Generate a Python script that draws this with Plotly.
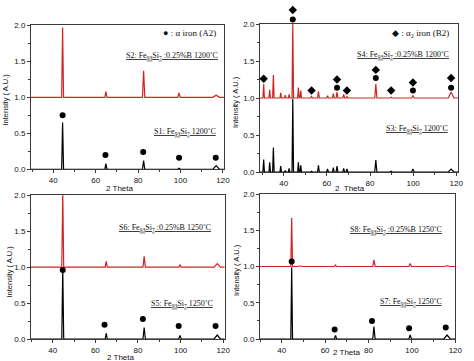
import plotly.graph_objects as go

W, H = 474, 361

# ---------------- data ----------------
# Panel a (top-left): 1200 C, alpha iron (A2)
s2_pos = [44.4, 64.8, 82.6, 99.3, 116.8]
s2_h = [0.97, 0.08, 0.37, 0.06, 0.03]
s2_w = [0.45, 0.5, 0.55, 0.6, 1.6]
s1_pos = [44.4, 64.8, 82.6, 99.3, 116.8]
s1_h = [0.65, 0.08, 0.12, 0.015, 0.05]
s1_w = [0.45, 0.5, 0.55, 0.6, 1.6]
a_circ_x = [44.4, 64.6, 82.4, 99.3, 116.6]
a_circ_y = [0.75, 0.20, 0.24, 0.16, 0.16]

# Panel b (top-right): 1200 C, alpha2 iron (B2)
b_pos = [30.7, 33.5, 35.2, 38.6, 40.7, 42.5, 44.2, 46.8, 47.9, 52.9, 56.1,
         60.3, 63.0, 64.7, 67.8, 69.3, 72.4, 82.7, 89.8, 95.7, 99.9, 117.6]
s4_h = [0.19, 0.11, 0.31, 0.07, 0.04, 0.05, 1.0, 0.14, 0.10, 0.02, 0.09,
        0.03, 0.06, 0.08, 0.05, 0.02, 0.01, 0.19, 0.01, 0.01, 0.03, 0.08]
s3_h = [0.17, 0.13, 0.33, 0.08, 0.02, 0.05, 0.99, 0.13, 0.09, 0.01, 0.09,
        0.04, 0.06, 0.08, 0.05, 0.04, 0.01, 0.16, 0.01, 0.01, 0.04, 0.04]
b_w = [0.35, 0.35, 0.35, 0.35, 0.35, 0.35, 0.35, 0.35, 0.35, 0.4, 0.4,
       0.4, 0.4, 0.4, 0.4, 0.4, 0.4, 0.5, 0.5, 0.5, 0.6, 1.3]
b_dia_x = [30.7, 44.2, 52.9, 64.7, 69.3, 82.7, 89.8, 99.9, 117.6]
b_dia_y = [1.26, 2.19, 1.10, 1.25, 1.10, 1.38, 1.10, 1.21, 1.27]
b_circ_x = [44.2, 64.7, 82.7, 99.9, 117.6]
b_circ_y = [2.06, 1.14, 1.27, 1.10, 1.14]

# Panel c (bottom-left): 1250 C
c_pos = [40.0, 44.7, 65.1, 82.9, 99.7, 117.2]
s6_h = [0.01, 1.05, 0.08, 0.15, 0.03, 0.05]
s5_h = [0.01, 1.0, 0.08, 0.16, 0.05, 0.055]
c_w = [0.4, 0.45, 0.5, 0.55, 0.6, 1.5]
c_circ_x = [44.7, 64.3, 82.3, 99.1, 116.4]
c_circ_y = [0.96, 0.20, 0.28, 0.18, 0.18]

# Panel d (bottom-right): 1250 C
d_pos = [40.0, 44.6, 48.5, 64.8, 82.5, 99.2, 116.2]
s8_h = [0.0, 0.67, 0.01, 0.02, 0.09, 0.04, 0.01]
s7_h = [0.01, 0.99, 0.0, 0.05, 0.17, 0.055, 0.055]
d_w = [0.4, 0.4, 1.0, 0.5, 0.55, 0.6, 1.5]
d_circ_x = [44.6, 64.4, 81.6, 98.7, 115.6]
d_circ_y = [1.07, 0.13, 0.25, 0.15, 0.16]

x_ticks = [40, 60, 80, 100, 120]
y_ticks = [0.0, 0.5, 1.0, 1.5, 2.0]

RED = "#d42222"
BLK = "#000000"
FRAME = "#3a3a3a"
SANS = "Liberation Sans, Arial, sans-serif"
SERIF = "Liberation Serif, Times New Roman, serif"


def profile(pos, h, w, base, xmin=28.0, xmax=122.0):
    xs, ys = [xmin], [base]
    for p, hh, ww in sorted(zip(pos, h, w)):
        xs += [p - ww, p, p + ww]
        ys += [base, base + hh, base]
    xs.append(xmax)
    ys.append(base)
    return xs, ys


def X(px):
    return px / W


def Y(py):
    return 1 - py / H


fig = go.Figure()

panels = [
    # axis suffix, red pattern, black pattern, domain x px, domain y px, xrange
    ("", (s2_pos, s2_h, s2_w), (s1_pos, s1_h, s1_w), (31, 224), (25.3, 169.3), [29.5, 120.5]),
    ("2", (b_pos, s4_h, b_w), (b_pos, s3_h, b_w), (260, 458), (24, 172), [29.0, 120.8]),
    ("3", (c_pos, s6_h, c_w), (c_pos, s5_h, c_w), (31, 224.5), (195.3, 339), [29.8, 120.6]),
    ("4", (d_pos, s8_h, d_w), (d_pos, s7_h, d_w), (260, 455.3), (194, 339), [30.0, 120.0]),
]

for suf, red, blk, dx, dy, xr in panels:
    xa = "x" + suf
    ya = "y" + suf
    rx, ry = profile(*red, base=1.0)
    bx, by = profile(*blk, base=0.0)
    fig.add_trace(go.Scatter(x=rx, y=ry, mode="lines", line=dict(color=RED, width=1.2),
                             xaxis=xa, yaxis=ya, showlegend=False, hoverinfo="skip"))
    fig.add_trace(go.Scatter(x=bx, y=by, mode="lines", line=dict(color=BLK, width=1.2),
                             xaxis=xa, yaxis=ya, showlegend=False, hoverinfo="skip"))
    axis_common = dict(showline=True, linecolor=FRAME, linewidth=1, mirror=True,
                       showgrid=False, zeroline=False, ticks="outside", ticklen=3,
                       tickwidth=1, tickcolor=FRAME,
                       tickfont=dict(family=SANS, size=8, color="#111"))
    fig.layout["xaxis" + suf] = dict(
        axis_common, domain=[X(dx[0]), X(dx[1])], range=xr, anchor=ya,
        tickvals=x_ticks, minor=dict(ticks="outside", ticklen=2, dtick=10, tick0=30,
                                     tickcolor=FRAME))
    fig.layout["yaxis" + suf] = dict(
        axis_common, domain=[Y(dy[1]), Y(dy[0])], range=[0, 2.0], anchor=xa,
        tickvals=y_ticks, tickformat=".1f",
        minor=dict(ticks="outside", ticklen=2, dtick=0.25, tick0=0, tickcolor=FRAME))

# hidden extra y axis for the top-right panel: same scale, extended to the top edge
tr_bot, tr_top = 172.0, 24.0
scale = 2.0 / (tr_bot - tr_top)
fig.layout["yaxis5"] = dict(domain=[Y(tr_bot), 1.0], range=[0, tr_bot * scale],
                            anchor="x2", visible=False, showgrid=False, zeroline=False)

# markers
circ_sets = [("x", "y", a_circ_x, a_circ_y), ("x2", "y5", b_circ_x, b_circ_y),
             ("x3", "y3", c_circ_x, c_circ_y), ("x4", "y4", d_circ_x, d_circ_y)]
for xa, ya, cx, cy in circ_sets:
    fig.add_trace(go.Scatter(x=cx, y=cy, mode="markers", xaxis=xa, yaxis=ya,
                             marker=dict(symbol="circle", size=6, color=BLK),
                             cliponaxis=False, showlegend=False, hoverinfo="skip"))
fig.add_trace(go.Scatter(x=b_dia_x, y=b_dia_y, mode="markers", xaxis="x2", yaxis="y5",
                         marker=dict(symbol="diamond", size=6.5, color=BLK),
                         cliponaxis=False, showlegend=False, hoverinfo="skip"))

ann = []


def label(text, x, y, axis, size=8, anchor="right"):
    ann.append(dict(text=text, x=x, y=y, xref="x" + axis, yref="y" + axis,
                    xanchor=anchor, yanchor="middle", showarrow=False,
                    font=dict(family=SERIF, size=size, color="#111")))


FS = "Fe<sub>93</sub>Si<sub>7</sub>"
label("<u>S2: " + FS + " :0.25%B 1200˚C</u>", 118.4, 1.57, "")
label("<u>S1: " + FS + " 1200˚C</u>", 117.5, 0.52, "")
label("<u>S4: " + FS + " :0.25%B 1200˚C</u>", 117.5, 1.58, "2")
label("<u>S3: " + FS + " 1200˚C</u>", 117.0, 0.58, "2")
label("<u>S6: " + FS + " :0.25%B 1250˚C</u>", 115.3, 1.55, "3")
label("<u>S5: " + FS + " 1250˚C</u>", 116.1, 0.49, "3")
label("<u>S8: " + FS + " :0.25%B 1250˚C</u>", 114.8, 1.51, "4")
label("<u>S7: " + FS + " 1250˚C</u>", 114.8, 0.51, "4")
label("● : α iron (A2)", 117.5, 1.90, "", size=9)
label("◆ : α<sub>2</sub> iron (B2)", 117.5, 1.87, "2", size=9)


def paper_text(text, pxx, pyy, angle=0, size=8):
    ann.append(dict(text=text, x=X(pxx), y=Y(pyy), xref="paper", yref="paper",
                    xanchor="center", yanchor="middle", showarrow=False, textangle=angle,
                    font=dict(family=SANS, size=size, color="#111")))


paper_text("2 Theta", 120, 188)
paper_text("2  Theta", 350, 188)
paper_text("2 Theta", 121, 357)
paper_text("2 Theta", 347, 352.5)
paper_text("Intensity ( A.U.)", 4.5, 100, angle=-90, size=7.5)
paper_text("Intensity ( A.U.)", 236, 102, angle=-90, size=7.5)
paper_text("Intensity ( A.U.)", 8.5, 272, angle=-90, size=7.5)
paper_text("Intensity ( A.U.)", 236, 270, angle=-90, size=7.5)

fig.update_layout(width=W, height=H, margin=dict(l=0, r=0, t=0, b=0, autoexpand=False),
                  paper_bgcolor="white", plot_bgcolor="rgba(0,0,0,0)", annotations=ann)

fig.write_html("out.html", config={"displayModeBar": False},
               post_script="document.body.style.margin='0';document.body.style.padding='0';")
